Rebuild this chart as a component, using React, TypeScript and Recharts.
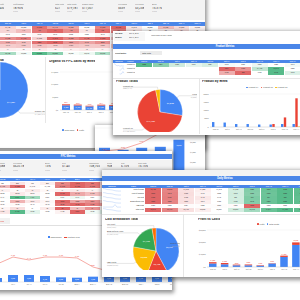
import React from "react";
import {
  PieChart,
  Pie,
  Cell,
  BarChart,
  Bar,
  XAxis,
  YAxis,
  CartesianGrid,
  LabelList,
  ComposedChart,
  Line,
  LineChart,
} from "recharts";

type Scale = "wr" | "wg" | "rwg" | "gwr";
type Fmt = "usd" | "usd2" | "int" | "pct";
type HeatRow = { name?: string; values: (number | null)[]; scale: Scale; fmt: Fmt };

// ---------- data ----------
const mainKpiLabels = ["Total Profit", "Profit Margin", "Total Units", "Total Costs", "Organic Sales", "PPC Spend", "PPC Sales", "ACoS"];
const mainKpiValues = ["$4,406", "18.90%", "627", "$19,781", "$11,007", "$659", "$3,238", "15.31%"];
const mainKpiX = [-5, 13, 55, 67, 82, 118, 135, 152];

const mainWeeks = ["Dec 30", "Jan 6", "Jan 13", "Jan 20", "Jan 27", "Feb 3", "Feb 10", "Feb 17", "Feb 24", "Mar 3", "Mar 10", "Mar 17", "Mar 24"];
const mainRows: HeatRow[] = [
  { values: [4120, 3980, 4650, 4410, 4380, 3920, 4550, 4720, 4010, 3880, 4230, 4060, 3950], scale: "wr", fmt: "usd" },
  { values: [104, 112, 135, 141, 128, 99, 138, 132, 97, 90, 95, 101, 93], scale: "wr", fmt: "int" },
  { values: [310, 305, 318, 312, 308, 300, 315, 320, 306, 302, 309, 311, 560], scale: "wr", fmt: "usd" },
  { values: [1650, 1720, 1390, 1810, 1680, 1750, 1800, 1420, 1800, 1200, 1500, 1480, 1460], scale: "wr", fmt: "usd" },
  { values: [760, 720, 880, 910, 800, 770, 820, 600, 580, 560, 610, 640, 600], scale: "wr", fmt: "usd" },
  { values: [12.1, 12.5, 13.0, 12.2, 12.8, 12.4, 12.6, 12.3, 20.5, 8.0, 12.0, 12.2, 12.4], scale: "wr", fmt: "pct" },
  { values: [41, 40, 42, 40, 41, 42, 41, 40, 39, 38, 66, 40, 41], scale: "wr", fmt: "int" },
  { values: [3420, 2980, 3905, 3600, 2950, 3010, 3390, 2900, 3100, 3050, 3200, 3150, 3000], scale: "wg", fmt: "usd" },
];

const splitNames = ["Organic Sales", "PPC Sales"];
const splitValues = [11007, 3238];

const orgWeeks = ["Nov 18", "Nov 25", "Dec 2", "Dec 9", "Dec 16", "Dec 23", "Dec 30", "Jan 6"];
const orgSales = [1850, 1790, 1420, 1760, 1680, 1540, 1610, 1720];
const orgProfit = [391, 352, 265, 341, 318, 290, 305, 330];

const prodWeeks = ["Sep 22", "Sep 29", "Oct 6", "Oct 13", "Oct 20", "Oct 27", "Nov 3", "Nov 10", "Nov 17", "Nov 24"];
const prodRows: HeatRow[] = [
  { name: "Product #1", values: [688, 563, 402, 346, 381, 310, 296, 330, 285, 312], scale: "wg", fmt: "usd" },
  { name: "Product #2", values: [null, null, null, null, null, 394, 455, 1120, 2010, 590], scale: "rwg", fmt: "usd" },
  { name: "Product #3", values: [null, null, null, null, null, 120, 85, 160, 410, 210], scale: "rwg", fmt: "usd" },
];
const prodNames = ["Product #1", "Product #2", "Product #3"];
const prodTotals = [7050, 17750, 800];

const pbwWeeks = ["Sep 29", "Oct 6", "Oct 13", "Oct 20", "Oct 27", "Nov 3", "Nov 10", "Nov 17"];
const pbwP1 = [3000, 2700, 1800, 1800, 1500, 1500, 1800, 1800];
const pbwP2 = [0, 0, 0, 0, 0, 1800, 5800, 17400];
const pbwP3 = [0, 0, 0, 0, 0, 0, 0, 300];

const pxWeeks = ["Oct 27", "Nov 3", "Nov 10", "Nov 17", "Nov 24"];
const pxImpr = [4950, 4540, 4950, 5150, 6600];
const pxCpc = [1.91, 2.09, 2.64, 3.55, 3.91];

const ppcKpiLabels = ["PPC Sales", "PPC Spend", "ACoS", "CPC", "Impressions", "Clicks", "CTR", "Conv Rate"];
const ppcKpiValues = ["$4,088", "$620.78", "13%", "$1.40", "108,765", "908", "6.10%", "15.15%"];
const ppcKpiX = [-4, 13, 45, 62, 89, 107, 121, 138];

const ppcWeeks = ["Jun 30", "Jul 7", "Jul 14", "Jul 21", "Jul 28", "Aug 4", "Aug 11", "Aug 18", "Aug 25", "Sep 1", "Sep 8", "Sep 15"];
const ppcRows: HeatRow[] = [
  { values: [780, 820, 790, 805, 960, 1010, 990, 850, 800, 830, 810, 790], scale: "wr", fmt: "int" },
  { values: [1420, 1680, 1210, 1190, 1620, 1700, 1650, 1300, 1250, 1280, 1260, 1240], scale: "wr", fmt: "usd" },
  { values: [41, 40, 42, 40, 41, 42, 41, 40, 60, 39, 41, 40], scale: "wr", fmt: "int" },
  { values: [0.9, 0.95, 0.92, 0.9, 1.25, 1.1, 1.05, 1.0, 0.98, 0.96, 0.94, 0.93], scale: "wr", fmt: "usd2" },
  { values: [5.1, 8.9, 7.2, 5.0, 5.2, 5.4, 5.0, 5.3, 5.2, 5.1, 5.0, 5.2], scale: "wg", fmt: "pct" },
  { values: [210, 225, 215, 212, 240, 228, 232, 218, 214, 220, 216, 211], scale: "wr", fmt: "usd" },
  { values: [10.2, 10.5, 10.1, 10.4, 18.5, 19.2, 17.8, 16.0, 10.6, 10.8, 10.3, 10.5], scale: "wr", fmt: "pct" },
  { values: [22, 24, 21, 23, 35, 27, 31, 22, 23, 22, 24, 23], scale: "wr", fmt: "int" },
  { values: [14.0, 21.0, 16.0, 15.0, 14.5, 9.0, 15.5, 16.0, 15.0, 14.8, 15.2, 15.0], scale: "rwg", fmt: "pct" },
];

const ppcChartWeeks = ["Jun 30", "Jul 7", "Jul 14", "Jul 21", "Jul 28", "Aug 4", "Aug 11", "Aug 18", "Aug 25", "Sep 1", "Sep 8", "Sep 15"];
const ppcImpr = [5400, 9500, 9500, 8100, 6300, 5800, 7200, 9500, 9500, 9400, 9000, 8500];
const ppcCpc = [0.97, 1.35, 1.19, 1.35, 1.35, 1.3, 0.81, 0.58, 0.62, 0.6, 0.64, 0.63];

const dailyWeeks = ["Sep 22", "Sep 29", "Oct 6", "Oct 13", "Oct 20", "Oct 27", "Nov 3", "Nov 10", "Nov 17", "Nov 24"];
const dailyRows: HeatRow[] = [
  { name: "Cost of Goods", values: [2150, 2020, 1640, 1580, 1510, 1320, 980, 870, 790, 820], scale: "gwr", fmt: "usd" },
  { name: "Cost of Shipping", values: [540, 515, 430, 410, 398, 345, 260, 230, 205, 212], scale: "gwr", fmt: "usd" },
  { name: "Ppc Cost", values: [160, 152, 120, 118, 110, 96, 70, 64, 58, 61], scale: "gwr", fmt: "usd" },
  { name: "AMZ Referral Fees", values: [690, 650, 530, 512, 490, 428, 318, 282, 256, 266], scale: "gwr", fmt: "usd" },
  { name: "FBA Costs", values: [402, 398, 401, 400, 399, 403, 620, 395, 396, 397], scale: "wr", fmt: "usd" },
  { name: "Total Costs", values: [3942, 3735, 3122, 3020, 2907, 2592, 2248, 1841, 1705, 1756], scale: "gwr", fmt: "usd" },
];

const costNames = ["Cost of Goods", "Cost of Shipping", "FBA Costs", "AMZ Referral Fees", "Ppc Cost"];
const costValues = [9724, 3190, 5080, 4460, 640];

const pvcWeeks = ["Sep 29", "Oct 6", "Oct 13", "Oct 20", "Oct 27", "Nov 3", "Nov 10", "Nov 17"];
const pvcCosts = [2850, 2200, 1400, 1400, 1050, 2850, 8150, 17900];
const pvcProfit = [1050, 1050, 550, 650, 400, 250, 1050, 2050];

// ---------- styles ----------
const FONT = "Roboto, 'Noto Sans', sans-serif";
const SHEET_BLUE = "#4a86e8";
const G_BLUE = "#4285f4";
const G_RED = "#ea4335";
const G_YELLOW = "#fbbc04";
const G_GREEN = "#34a853";
const G_ORANGE = "#ff6d01";
const HEAT_RED = "#e06666";
const HEAT_GREEN = "#57bb8a";

function mix(a: string, b: string, t: number) {
  const pa = [1, 3, 5].map((i) => parseInt(a.slice(i, i + 2), 16));
  const pb = [1, 3, 5].map((i) => parseInt(b.slice(i, i + 2), 16));
  const k = Math.max(0, Math.min(1, t));
  return "rgb(" + pa.map((v, i) => Math.round(v + (pb[i] - v) * k)).join(",") + ")";
}

function heat(v: number, vals: number[], scale: Scale) {
  const min = Math.min(...vals);
  const max = Math.max(...vals);
  const W = "#ffffff";
  if (max === min) return W;
  if (scale === "wr") return mix(W, HEAT_RED, (v - min) / (max - min));
  if (scale === "wg") return mix(W, HEAT_GREEN, (v - min) / (max - min));
  const sorted = [...vals].sort((a, b) => a - b);
  const med = sorted[Math.floor(sorted.length / 2)];
  const lo = scale === "rwg" ? HEAT_RED : HEAT_GREEN;
  const hi = scale === "rwg" ? HEAT_GREEN : HEAT_RED;
  if (v <= med) return mix(lo, W, med === min ? 1 : (v - min) / (med - min));
  return mix(W, hi, (v - med) / (max - med));
}

const usd = (v: any) => "$" + Math.round(Number(v)).toLocaleString("en-US");
const usdTick = (v: number) => "$" + v.toLocaleString("en-US");
function fmtVal(v: number, f: Fmt) {
  if (f === "usd") return usd(v);
  if (f === "usd2") return "$" + v.toFixed(2);
  if (f === "pct") return v.toFixed(1) + "%";
  return Math.round(v).toLocaleString("en-US");
}

const tickStyle = { fontSize: 1.9, fill: "#777" };

// ---------- small pieces ----------
function Panel({ x, y, w, h, children }: { x: number; y: number; w: number; h: number; children?: React.ReactNode }) {
  return (
    <div
      style={{
        position: "absolute",
        left: x,
        top: y,
        width: w,
        height: h,
        background: "#fff",
        boxShadow: "0 1.5px 4px 1.5px rgba(0,0,0,0.42)",
        overflow: "hidden",
      }}
    >
      <div style={{ position: "absolute", left: -x, top: -y, width: 320, height: 300 }}>{children}</div>
    </div>
  );
}

function Txt({
  x, y, w, h, size = 2.2, color = "#333", bold = false, align = "left", children,
}: {
  x: number; y: number; w?: number; h?: number; size?: number; color?: string; bold?: boolean;
  align?: "left" | "center" | "right"; children?: React.ReactNode;
}) {
  return (
    <div
      style={{
        position: "absolute",
        left: x,
        top: y,
        width: w,
        height: h,
        fontSize: size,
        lineHeight: h ? `${h}px` : 1.15,
        color,
        fontWeight: bold ? 700 : 400,
        textAlign: align,
        whiteSpace: "nowrap",
        overflow: "hidden",
      }}
    >
      {children}
    </div>
  );
}

function Box({ x, y, w, h, bg }: { x: number; y: number; w: number; h: number; bg: string }) {
  return <div style={{ position: "absolute", left: x, top: y, width: w, height: h, background: bg }} />;
}

function LegendRow({ x, y, items }: { x: number; y: number; items: { label: string; color: string; kind: "dot" | "line" | "square" }[] }) {
  return (
    <div style={{ position: "absolute", left: x, top: y, display: "flex", gap: 2.2, fontSize: 2, color: "#555", whiteSpace: "nowrap", lineHeight: "3px", alignItems: "center" }}>
      {items.map((it) => (
        <span key={it.label} style={{ display: "flex", alignItems: "center", gap: 0.8 }}>
          <span
            style={{
              display: "inline-block",
              width: it.kind === "line" ? 3 : 1.7,
              height: it.kind === "line" ? 0.5 : 1.7,
              borderRadius: it.kind === "dot" ? "50%" : 0,
              background: it.color,
            }}
          />
          {it.label}
        </span>
      ))}
    </div>
  );
}

function Spark({ vals, w, h }: { vals: (number | null)[]; w: number; h: number }) {
  const d = vals.map((v, i) => ({ i, v }));
  return (
    <LineChart width={w} height={h} data={d} margin={{ top: 0.6, right: 1, bottom: 0.6, left: 1 }}>
      <YAxis hide domain={["dataMin", "dataMax"]} />
      <Line dataKey="v" stroke="#8fb4f2" strokeWidth={0.35} dot={false} connectNulls isAnimationActive={false} />
    </LineChart>
  );
}

function HeatTable({
  x, y, colW, rowH, headH, heads, rows, sparkW = 0, nameW = 0, leadHeads = [],
}: {
  x: number; y: number; colW: number; rowH: number; headH: number; heads: string[]; rows: HeatRow[];
  sparkW?: number; nameW?: number; leadHeads?: string[];
}) {
  const leadW = sparkW + nameW;
  const totalW = leadW + heads.length * colW;
  const cellH = rowH - 0.3;
  return (
    <>
      <Box x={x} y={y} w={totalW} h={headH} bg={SHEET_BLUE} />
      {leadHeads.map((h, i) => (
        <Txt key={"lh" + i} x={x + (i === 0 ? 0 : sparkW)} y={y} w={i === 0 ? sparkW : nameW} h={headH} size={1.8} color="#fff" align="center">
          {h}
        </Txt>
      ))}
      {heads.map((h, i) => (
        <Txt key={"h" + i} x={x + leadW + i * colW} y={y} w={colW} h={headH} size={1.9} color="#fff" align="center">
          {h}
        </Txt>
      ))}
      {rows.map((r, ri) => {
        const top = y + headH + ri * rowH + 0.15;
        const vals = r.values.filter((v): v is number => v != null);
        return (
          <React.Fragment key={ri}>
            {sparkW > 0 && (
              <div style={{ position: "absolute", left: x, top, width: sparkW, height: cellH }}>
                <Spark vals={r.values} w={sparkW} h={cellH} />
              </div>
            )}
            {nameW > 0 && (
              <Txt x={x + sparkW} y={top} w={nameW - 0.8} h={cellH} size={1.7} color="#444" align="right">
                {r.name}
              </Txt>
            )}
            {r.values.map((v, ci) => (
              <div
                key={ci}
                style={{
                  position: "absolute",
                  left: x + leadW + ci * colW,
                  top,
                  width: colW - 0.3,
                  height: cellH,
                  background: v == null ? "#fff" : heat(v, vals, r.scale),
                  fontSize: 1.7,
                  lineHeight: `${cellH}px`,
                  textAlign: "center",
                  color: "#333",
                  whiteSpace: "nowrap",
                  overflow: "hidden",
                }}
              >
                {v == null ? "" : fmtVal(v, r.fmt)}
              </div>
            ))}
          </React.Fragment>
        );
      })}
    </>
  );
}

function Kpis({ labels, values, xs, y }: { labels: string[]; values: string[]; xs: number[]; y: number }) {
  return (
    <>
      {labels.map((l, i) => (
        <React.Fragment key={l}>
          <Txt x={xs[i]} y={y} size={1.9} color="#777">{l}</Txt>
          <Txt x={xs[i]} y={y + 3.6} size={3.1} color="#333">{values[i]}</Txt>
          <Txt x={xs[i]} y={y + 8.4} size={1.6} color="#aaa">vs prev</Txt>
        </React.Fragment>
      ))}
    </>
  );
}

function pieLabel(lx: number, rx: number) {
  return (p: any) => {
    const RAD = Math.PI / 180;
    const c = Math.cos(p.midAngle * RAD);
    const s = -Math.sin(p.midAngle * RAD);
    const r = p.outerRadius;
    const ax = p.cx + r * c;
    const ay = p.cy + r * s;
    const bx = p.cx + (r + 2.5) * c;
    const by = p.cy + (r + 2.5) * s;
    const right = c >= 0;
    const ex = p.cx + (right ? rx : lx);
    return (
      <g>
        {p.percent > 0.08 && (
          <text x={p.cx + r * 0.6 * c} y={p.cy + r * 0.6 * s} fill="#fff" fontSize={2.3} textAnchor="middle" dominantBaseline="central">
            {usd(p.value)}
          </text>
        )}
        <polyline points={`${ax},${ay} ${bx},${by} ${ex},${by}`} fill="none" stroke="#9e9e9e" strokeWidth={0.25} />
        <text x={ex} y={by - 0.6} fill="#555" fontSize={2} textAnchor={right ? "end" : "start"}>
          {p.name}
        </text>
        <text x={ex} y={by + 2.2} fill="#aaa" fontSize={1.7} textAnchor={right ? "end" : "start"}>
          {usd(p.value)} ({(p.percent * 100).toFixed(1)}%)
        </text>
      </g>
    );
  };
}

// ---------- charts ----------
function SplitPie() {
  const data = splitNames.map((name, i) => ({ name, value: splitValues[i] }));
  const colors = [G_BLUE, G_RED];
  return (
    <PieChart width={85} height={90}>
      <Pie data={data} dataKey="value" nameKey="name" cx={35} cy={45} outerRadius={28} startAngle={90} endAngle={-270}
        stroke="#fff" strokeWidth={0.3} label={pieLabel(-40, 47)} labelLine={false} isAnimationActive={false}>
        {data.map((d, i) => <Cell key={d.name} fill={colors[i]} />)}
      </Pie>
    </PieChart>
  );
}

function OrgChart() {
  const data = orgWeeks.map((w, i) => ({ w, sales: orgSales[i], profit: orgProfit[i] }));
  return (
    <BarChart width={108} height={49} data={data} margin={{ top: 6, right: 0, bottom: 0, left: 0 }}>
      <CartesianGrid vertical={false} stroke="#e3e3e3" strokeWidth={0.3} />
      <XAxis dataKey="w" height={5} interval={0} tick={tickStyle} tickLine={false} tickSize={0.5} tickMargin={0.8} axisLine={{ stroke: "#bbb", strokeWidth: 0.3 }} />
      <YAxis width={14} domain={[0, 15000]} ticks={[0, 5000, 10000, 15000]} tick={tickStyle} tickFormatter={usdTick} axisLine={false} tickLine={false} tickSize={1} tickMargin={1} />
      <Bar dataKey="sales" stackId="s" fill={G_BLUE} barSize={8} isAnimationActive={false}>
        <LabelList dataKey="sales" position="inside" fill="#fff" fontSize={1.5} formatter={usd} />
      </Bar>
      <Bar dataKey="profit" stackId="s" fill={G_RED} barSize={8} isAnimationActive={false}>
        <LabelList dataKey="profit" position="top" fill={G_RED} fontSize={1.6} offset={1} formatter={usd} />
      </Bar>
    </BarChart>
  );
}

function ProductPie() {
  const data = prodNames.map((name, i) => ({ name, value: prodTotals[i] }));
  const colors = [G_BLUE, G_RED, G_YELLOW];
  return (
    <PieChart width={84} height={50}>
      <Pie data={data} dataKey="value" nameKey="name" cx={42} cy={25} outerRadius={22.5} startAngle={90} endAngle={-270}
        stroke="#fff" strokeWidth={0.3} label={pieLabel(-37, 42)} labelLine={false} isAnimationActive={false}>
        {data.map((d, i) => <Cell key={d.name} fill={colors[i]} />)}
      </Pie>
    </PieChart>
  );
}

function ProductWeekChart() {
  const data = pbwWeeks.map((w, i) => ({ w, p1: pbwP1[i], p2: pbwP2[i], p3: pbwP3[i] }));
  return (
    <BarChart width={102} height={44} data={data} margin={{ top: 5, right: 0, bottom: 0, left: 0 }} barGap={0.4}>
      <CartesianGrid vertical={false} stroke="#e3e3e3" strokeWidth={0.3} />
      <XAxis dataKey="w" height={6} interval={0} tick={tickStyle} tickLine={false} tickSize={0.5} tickMargin={1} axisLine={{ stroke: "#bbb", strokeWidth: 0.3 }} />
      <YAxis width={10} domain={[0, 20000]} ticks={[0, 5000, 10000, 15000, 20000]} tick={tickStyle} axisLine={false} tickLine={false} tickSize={1} tickMargin={0.5} />
      <Bar dataKey="p1" fill={G_BLUE} barSize={2.4} isAnimationActive={false} />
      <Bar dataKey="p2" fill={G_RED} barSize={2.4} isAnimationActive={false} />
      <Bar dataKey="p3" fill={G_YELLOW} barSize={2.4} isAnimationActive={false} />
    </BarChart>
  );
}

function BackChart() {
  const data = pxWeeks.map((w, i) => ({ w, impr: pxImpr[i], cpc: pxCpc[i] }));
  return (
    <ComposedChart width={107} height={51} data={data} margin={{ top: 3, right: 0, bottom: 0, left: 0 }}>
      <CartesianGrid vertical={false} stroke="#e3e3e3" strokeWidth={0.3} />
      <XAxis dataKey="w" height={4} interval={0} tick={tickStyle} tickLine={false} tickSize={0.5} tickMargin={0.5} axisLine={{ stroke: "#bbb", strokeWidth: 0.3 }} />
      <YAxis yAxisId="b" orientation="right" width={14} domain={[0, 9000]} ticks={[0, 2000, 4000, 6000]} tick={tickStyle} tickFormatter={usdTick} axisLine={false} tickLine={false} tickSize={1} tickMargin={1} />
      <YAxis yAxisId="l" hide domain={[0, 4]} />
      <Bar yAxisId="b" dataKey="impr" fill={G_BLUE} barSize={11} isAnimationActive={false}>
        <LabelList dataKey="impr" position="insideTop" fill="#fff" fontSize={1.6} formatter={usd} />
      </Bar>
      <Line yAxisId="l" dataKey="cpc" stroke={G_RED} strokeWidth={0.45} dot={false} isAnimationActive={false}>
        <LabelList dataKey="cpc" position="top" fill={G_RED} fontSize={1.6} offset={1} formatter={(v: any) => "$" + Number(v).toFixed(2)} />
      </Line>
    </ComposedChart>
  );
}

function PpcChart() {
  const data = ppcChartWeeks.map((w, i) => ({ w, impr: ppcImpr[i], cpc: ppcCpc[i] }));
  return (
    <ComposedChart width={192} height={48} data={data} margin={{ top: 5, right: 0, bottom: 0, left: 0 }}>
      <XAxis dataKey="w" height={6} interval={0} tick={tickStyle} tickLine={false} tickSize={0.5} tickMargin={1} axisLine={{ stroke: "#bbb", strokeWidth: 0.3 }} />
      <YAxis yAxisId="b" hide domain={[0, 50000]} />
      <YAxis yAxisId="l" hide domain={[0, 2]} />
      <Bar yAxisId="b" dataKey="impr" fill={G_BLUE} barSize={10} isAnimationActive={false}>
        <LabelList dataKey="impr" position="inside" fill="#fff" fontSize={1.6} formatter={(v: any) => Number(v).toLocaleString("en-US")} />
      </Bar>
      <Line yAxisId="l" dataKey="cpc" stroke={G_RED} strokeWidth={0.45} dot={false} isAnimationActive={false}>
        <LabelList dataKey="cpc" position="top" fill={G_RED} fontSize={1.6} offset={1.2} formatter={(v: any) => "$" + Number(v).toFixed(2)} />
      </Line>
    </ComposedChart>
  );
}

function CostPie() {
  const data = costNames.map((name, i) => ({ name, value: costValues[i] }));
  const colors = [G_BLUE, G_RED, G_YELLOW, G_GREEN, G_ORANGE];
  return (
    <PieChart width={80} height={48}>
      <Pie data={data} dataKey="value" nameKey="name" cx={51} cy={24} outerRadius={23} startAngle={90} endAngle={-270}
        stroke="#fff" strokeWidth={0.3} label={pieLabel(-49, 27)} labelLine={false} isAnimationActive={false}>
        {data.map((d, i) => <Cell key={d.name} fill={colors[i]} />)}
      </Pie>
    </PieChart>
  );
}

function ProfitCostChart() {
  const data = pvcWeeks.map((w, i) => ({ w, costs: pvcCosts[i], profit: pvcProfit[i] }));
  return (
    <BarChart width={106} height={47} data={data} margin={{ top: 4, right: 0, bottom: 0, left: 0 }}>
      <CartesianGrid vertical={false} stroke="#e3e3e3" strokeWidth={0.3} />
      <XAxis dataKey="w" height={6} interval={0} tick={tickStyle} tickLine={false} tickSize={0.5} tickMargin={1} axisLine={{ stroke: "#bbb", strokeWidth: 0.3 }} />
      <YAxis width={11} domain={[0, 30000]} ticks={[0, 10000, 20000, 30000]} tick={tickStyle} tickFormatter={usdTick} axisLine={false} tickLine={false} tickSize={1} tickMargin={0.5} />
      <Bar dataKey="costs" stackId="s" fill={G_BLUE} barSize={7.5} isAnimationActive={false} />
      <Bar dataKey="profit" stackId="s" fill={G_RED} barSize={7.5} isAnimationActive={false}>
        <LabelList dataKey="profit" position="top" fill={G_RED} fontSize={1.6} offset={1} formatter={usd} />
      </Bar>
    </BarChart>
  );
}

// ---------- page ----------
export default function App() {
  return (
    <div style={{ position: "absolute", left: 0, top: 0, width: 300, height: 300, overflow: "hidden", background: "#fff", fontFamily: FONT }}>
      {/* main dashboard */}
      <Panel x={-5} y={-3} w={210} h={151}>
        <Box x={-5} y={0} w={210} h={20} bg="#f3f3f3" />
        <Kpis labels={mainKpiLabels} values={mainKpiValues} xs={mainKpiX} y={3} />
        <HeatTable x={0} y={22} colW={15.8} rowH={3.7} headH={3.6} heads={mainWeeks} rows={mainRows} />
        <Txt x={-40} y={59} w={44} size={3.4} bold align="right">Organic vs PPC Total</Txt>
        <div style={{ position: "absolute", left: -40, top: 40 }}>
          <SplitPie />
        </div>
        <Box x={45} y={57} w={0.4} h={66} bg="#e6e6e6" />
        <Txt x={49} y={59.5} size={3.4} bold>Organic vs PPC Sales by Week</Txt>
        <div style={{ position: "absolute", left: 46, top: 66 }}>
          <OrgChart />
        </div>
        <LegendRow x={62} y={128.5} items={[{ label: "Total Sales", color: G_BLUE, kind: "dot" }, { label: "Profit", color: G_RED, kind: "dot" }]} />
      </Panel>

      {/* chart peeking from behind */}
      <Panel x={95} y={125} w={110} h={53}>
        <div style={{ position: "absolute", left: 95, top: 125 }}>
          <BackChart />
        </div>
      </Panel>

      {/* product metrics */}
      <Panel x={113} y={31} w={200} h={104}>
        <Box x={114} y={32} w={31} h={9} bg="#f7f7f7" />
        <Txt x={114.5} y={33} w={10} size={1.6} bold>Start Week</Txt>
        <Txt x={129} y={33} w={14} size={1.6}>Nov 19, 2018</Txt>
        <Txt x={114.5} y={37} w={10} size={1.6} bold>End Week</Txt>
        <Txt x={129} y={37} w={14} size={1.6}>Nov 17, 2019</Txt>
        <Txt x={151} y={35} size={1.7} color="#555">Leave blank for last X weeks</Txt>
        <Box x={113} y={43.5} w={200} h={5} bg={SHEET_BLUE} />
        <Txt x={195} y={43.5} w={60} h={5} size={2.6} bold color="#fff" align="center">Product Metrics</Txt>
        <Txt x={115} y={52} w={17} h={3} size={1.9} bold>Select Metric</Txt>
        <Box x={140} y={51.3} w={22} h={3.6} bg="#ececec" />
        <Txt x={142} y={52} w={18} h={3} size={1.9}>Total Units</Txt>
        <HeatTable x={113} y={60} colW={16.5} rowH={4} headH={3} heads={prodWeeks} rows={prodRows} sparkW={12} nameW={11} leadHeads={["Sparkline", "Product"]} />
        <Box x={113} y={77.5} w={200} h={0.4} bg="#e6e6e6" />
        <Txt x={116} y={80.3} size={3.4} bold>Product Totals</Txt>
        <div style={{ position: "absolute", left: 113, top: 82 }}>
          <ProductPie />
        </div>
        <Box x={198.5} y={79} w={0.4} h={55} bg="#e6e6e6" />
        <Txt x={202} y={80.3} size={3.4} bold>Product by Week</Txt>
        <LegendRow x={246} y={86} items={[{ label: "Product #1", color: G_BLUE, kind: "dot" }, { label: "Product #2", color: G_RED, kind: "dot" }, { label: "Product #3", color: G_YELLOW, kind: "dot" }]} />
        <div style={{ position: "absolute", left: 200, top: 89 }}>
          <ProductWeekChart />
        </div>
      </Panel>

      {/* PPC metrics */}
      <Panel x={-35} y={151} w={207} h={139}>
        <Box x={-35} y={154} w={207} h={5} bg={SHEET_BLUE} />
        <Txt x={38} y={154} w={60} h={5} size={2.6} bold color="#fff" align="center">PPC Metrics</Txt>
        <Box x={-35} y={160} w={207} h={16} bg="#f3f3f3" />
        <Kpis labels={ppcKpiLabels} values={ppcKpiValues} xs={ppcKpiX} y={161.5} />
        <HeatTable x={-5} y={178} colW={15} rowH={3.6} headH={3.4} heads={ppcWeeks} rows={ppcRows} />
        <Box x={-3} y={218} w={13} h={6} bg="#f1f1f1" />
        <Txt x={-1} y={219.5} size={2} color={G_RED}>Clicks</Txt>
        <Box x={-35} y={225} w={207} h={0.4} bg="#e0e0e0" />
        <LegendRow x={48} y={235.5} items={[{ label: "Impressions", color: G_BLUE, kind: "square" }, { label: "Cost per Click", color: G_RED, kind: "line" }]} />
        <div style={{ position: "absolute", left: -11, top: 240 }}>
          <PpcChart />
        </div>
      </Panel>

      {/* daily metrics */}
      <Panel x={102} y={170} w={210} h={107}>
        <Box x={102} y={170} w={210} h={6} bg="#f3f3f3" />
        <Box x={102} y={176} w={210} h={5} bg={SHEET_BLUE} />
        <Txt x={195} y={176} w={60} h={5} size={2.6} bold color="#fff" align="center">Daily Metrics</Txt>
        <HeatTable x={102} y={185} colW={16.5} rowH={4} headH={3} heads={dailyWeeks} rows={dailyRows} sparkW={20} nameW={23} leadHeads={["Sparkline", "Name"]} />
        <Box x={102} y={214} w={210} h={0.4} bg="#e6e6e6" />
        <Txt x={105} y={217.5} size={3.4} bold>Cost Breakdown Total</Txt>
        <div style={{ position: "absolute", left: 100, top: 222 }}>
          <CostPie />
        </div>
        <Box x={183} y={215} w={0.4} h={62} bg="#e6e6e6" />
        <Txt x={198} y={217.5} size={3.4} bold>Profit vs Costs</Txt>
        <LegendRow x={257} y={222.8} items={[{ label: "Profit", color: G_RED, kind: "dot" }, { label: "Total Costs", color: G_BLUE, kind: "dot" }]} />
        <div style={{ position: "absolute", left: 196, top: 226 }}>
          <ProfitCostChart />
        </div>
      </Panel>
    </div>
  );
}
